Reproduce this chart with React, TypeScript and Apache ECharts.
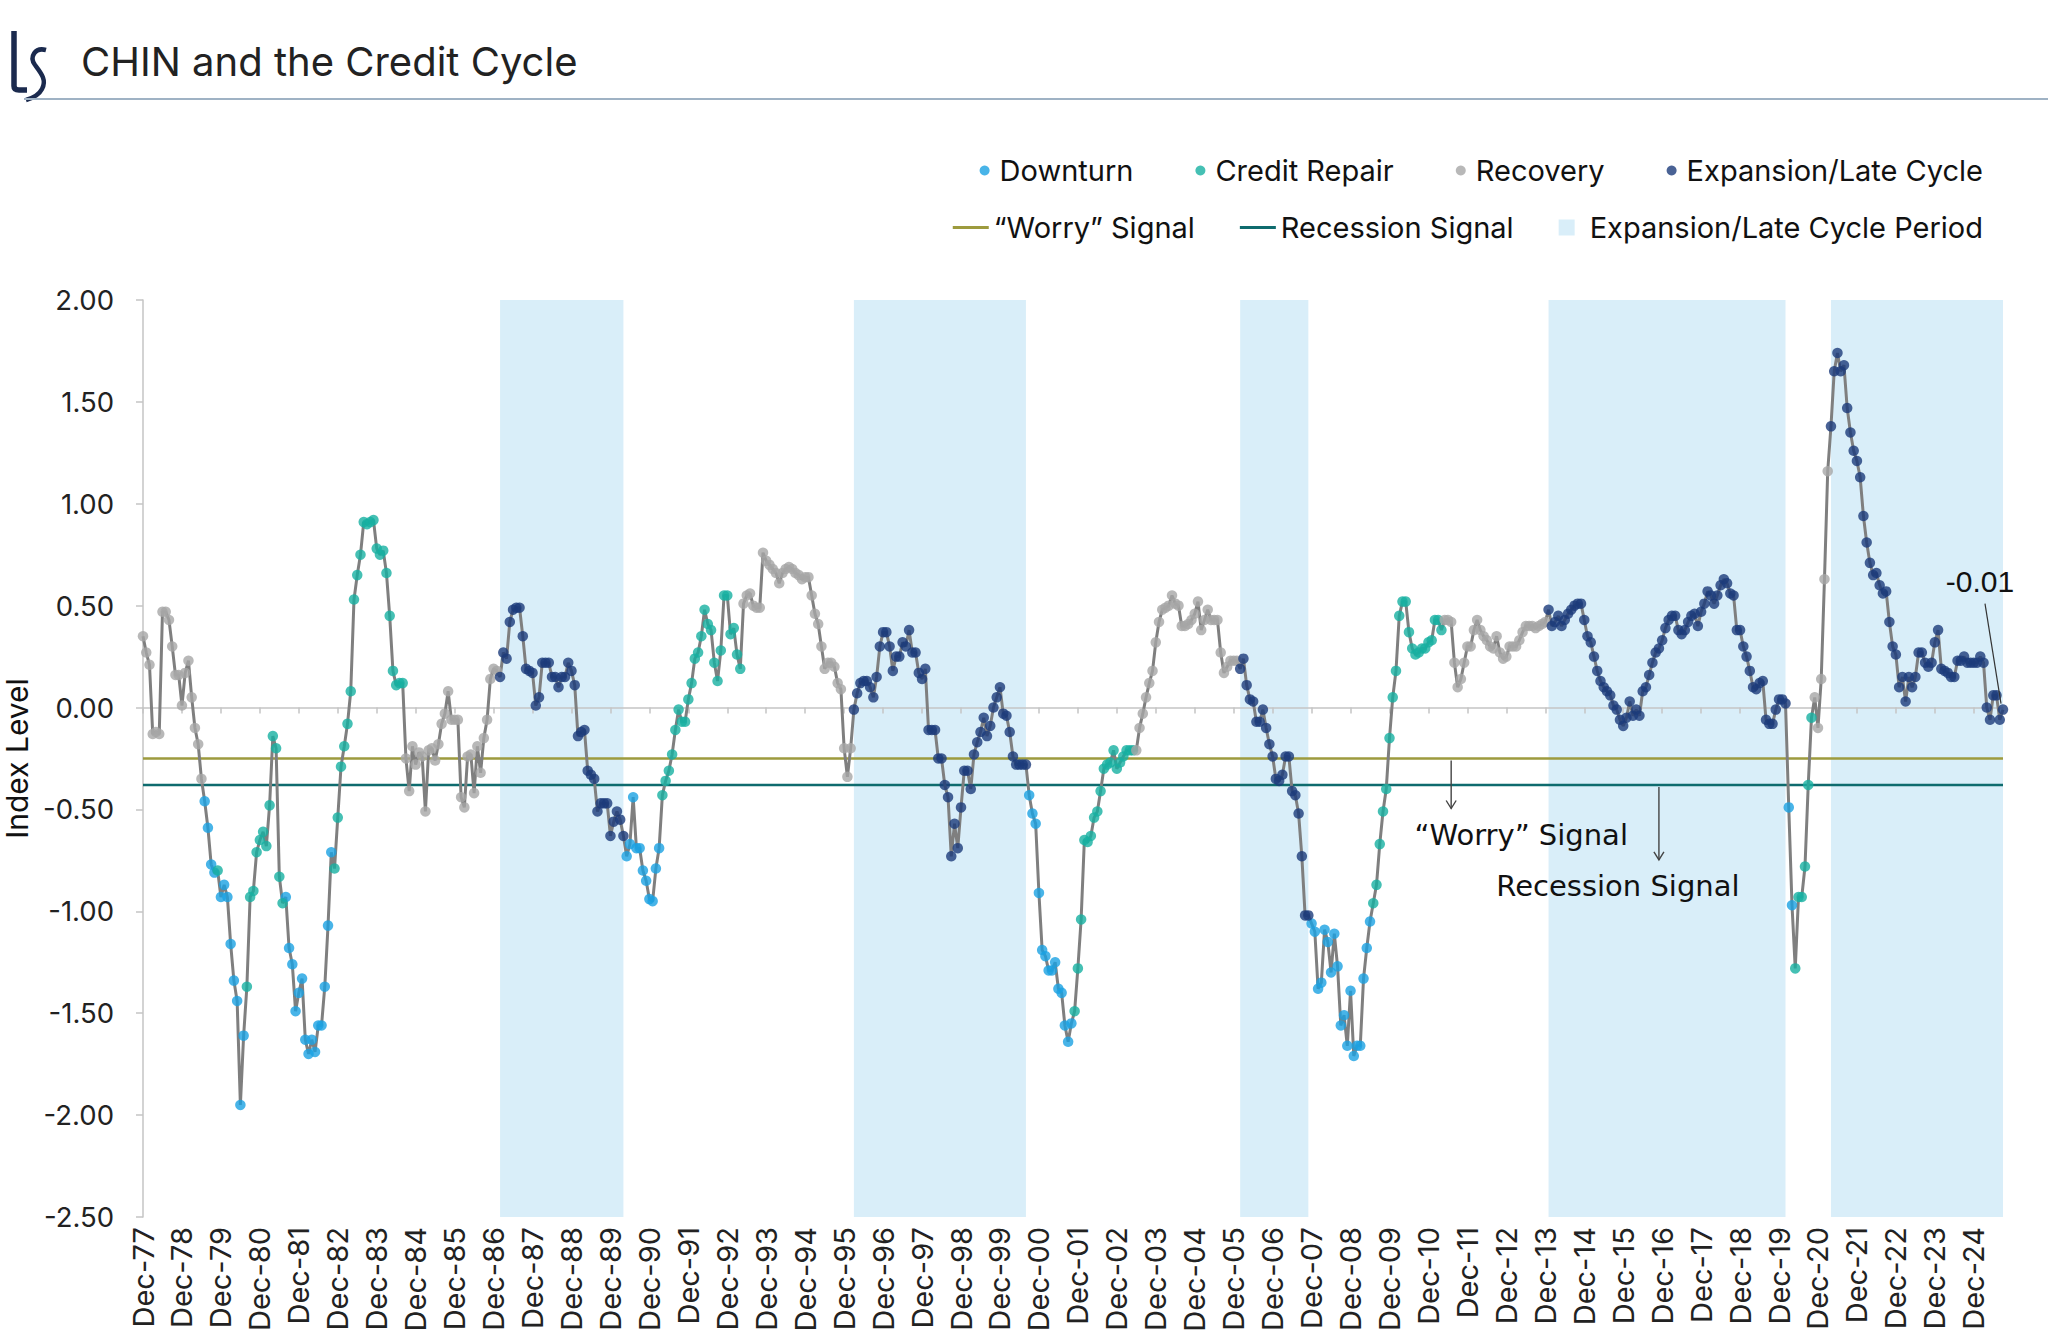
import React, { useEffect, useRef } from "react";
import * as echarts from "echarts";

// ---------- DATA ----------
const MONTH_NAMES = ["Jan", "Feb", "Mar", "Apr", "May", "Jun", "Jul", "Aug", "Sep", "Oct", "Nov", "Dec"];
const Y_MIN = -2.5;
const Y_MAX = 2;
const Y_STEP = 0.5;
const worrySignal = -0.25;
const recessionSignal = -0.38;

// monthly CHIN index, starting Dec-77
const chin1977_1983 = [
  0.35, 0.27, 0.21, -0.13, -0.12, -0.13, 0.47, 0.47, 0.43, 0.30, 0.16, 0.16,
  0.01, 0.17, 0.23, 0.05, -0.10, -0.18, -0.35, -0.46, -0.59, -0.77, -0.81, -0.80,
  -0.93, -0.87, -0.93, -1.16, -1.34, -1.44, -1.95, -1.61, -1.37, -0.93, -0.90, -0.71,
  -0.65, -0.61, -0.68, -0.48, -0.14, -0.20, -0.83, -0.96, -0.93, -1.18, -1.26, -1.49,
  -1.40, -1.33, -1.63, -1.70, -1.63, -1.69, -1.56, -1.56, -1.37, -1.07, -0.71, -0.79,
  -0.54, -0.29, -0.19, -0.08, 0.08, 0.53, 0.65,
];
const chin1983_1987 = [
  0.75, 0.91, 0.90, 0.91, 0.92, 0.78, 0.75, 0.77, 0.66, 0.45, 0.18, 0.11,
  0.12, 0.12, -0.25, -0.41, -0.19, -0.28, -0.22, -0.24, -0.51, -0.21, -0.20, -0.26,
  -0.18, -0.08, -0.03, 0.08, -0.06, -0.06, -0.06, -0.44, -0.49, -0.24, -0.23, -0.42,
  -0.19, -0.32, -0.15, -0.06, 0.14, 0.19, 0.18, 0.15, 0.27, 0.24, 0.42, 0.48,
  0.49, 0.49, 0.35, 0.19,
];
const chin1987_1991 = [
  0.18, 0.17, 0.01, 0.05, 0.22, 0.22, 0.22, 0.15, 0.15, 0.10, 0.15, 0.15,
  0.22, 0.18, 0.11, -0.14, -0.12, -0.11, -0.31, -0.33, -0.35, -0.51, -0.47, -0.47,
  -0.47, -0.63, -0.56, -0.51, -0.55, -0.63, -0.73, -0.67, -0.44, -0.69, -0.69, -0.80,
  -0.85, -0.94, -0.95, -0.79, -0.69, -0.43, -0.36, -0.31, -0.23, -0.11, -0.01, -0.07,
  -0.07, 0.04, 0.12, 0.24, 0.27, 0.35, 0.48,
];
const chin1992_1996 = [
  0.41, 0.38, 0.22, 0.13, 0.28, 0.55, 0.55, 0.36, 0.39, 0.26, 0.19, 0.51,
  0.55, 0.56, 0.50, 0.49, 0.49, 0.76, 0.72, 0.70, 0.68, 0.66, 0.61, 0.66,
  0.68, 0.69, 0.68, 0.66, 0.65, 0.63, 0.64, 0.64, 0.55, 0.46, 0.41, 0.30,
  0.19, 0.22, 0.22, 0.20, 0.12, 0.09, -0.20, -0.34, -0.20, -0.01, 0.07, 0.12,
  0.13, 0.13, 0.10, 0.05,
];
const chin1996_2001 = [
  0.15, 0.30, 0.37, 0.37, 0.30, 0.18, 0.25, 0.25, 0.32, 0.30, 0.38, 0.27,
  0.27, 0.17, 0.14, 0.19, -0.11, -0.11, -0.11, -0.25, -0.25, -0.38, -0.44, -0.73,
  -0.57, -0.69, -0.49, -0.31, -0.31, -0.40, -0.23, -0.17, -0.12, -0.05, -0.14, -0.09,
  0.00, 0.05, 0.10, -0.03, -0.04, -0.12, -0.24, -0.28, -0.28, -0.28, -0.28, -0.43,
  -0.52, -0.57, -0.91, -1.19, -1.22, -1.29, -1.29, -1.25, -1.38, -1.40, -1.56, -1.64,
];
const chin2001_2005 = [
  -1.55, -1.49, -1.28, -1.04, -0.65, -0.66, -0.63, -0.54, -0.51, -0.41, -0.30, -0.28,
  -0.27, -0.21, -0.30, -0.27, -0.24, -0.21, -0.21, -0.21, -0.21, -0.10, -0.03, 0.05,
  0.12, 0.18, 0.32, 0.42, 0.48, 0.49, 0.50, 0.55, 0.51, 0.50, 0.40, 0.40,
  0.41, 0.43, 0.46, 0.52, 0.38, 0.43, 0.48, 0.43, 0.43, 0.43, 0.27, 0.17,
  0.20, 0.23, 0.23, 0.23,
];
const chin2006_2010 = [
  0.19, 0.24, 0.11, 0.04, 0.03, -0.07, -0.07, -0.01, -0.10, -0.18, -0.24, -0.35,
  -0.36, -0.33, -0.24, -0.24, -0.41, -0.43, -0.52, -0.73, -1.02, -1.02, -1.06, -1.10,
  -1.38, -1.35, -1.09, -1.15, -1.30, -1.11, -1.27, -1.56, -1.51, -1.66, -1.39, -1.71,
  -1.66, -1.66, -1.33, -1.18, -1.05, -0.96, -0.87, -0.67, -0.51, -0.40, -0.15, 0.05,
  0.18, 0.45, 0.52, 0.52, 0.37, 0.29, 0.26,
];
const chin2010_2014 = [
  0.27, 0.29, 0.29, 0.32, 0.33, 0.43, 0.43, 0.38, 0.43, 0.43, 0.42, 0.22,
  0.10, 0.14, 0.22, 0.30, 0.30, 0.38, 0.43, 0.38, 0.35, 0.33, 0.30, 0.29,
  0.35, 0.27, 0.24, 0.25, 0.30, 0.30, 0.30, 0.33, 0.37, 0.40, 0.40, 0.40,
  0.39, 0.40, 0.41, 0.42, 0.48, 0.40, 0.42, 0.45, 0.40, 0.43, 0.46, 0.48,
  0.50, 0.51, 0.51, 0.43, 0.35, 0.32,
];
const chin2015_2019 = [
  0.25, 0.18, 0.13, 0.10, 0.08, 0.06, 0.01, -0.01, -0.06, -0.09, -0.05, 0.03,
  -0.04, -0.01, -0.04, 0.08, 0.10, 0.16, 0.22, 0.27, 0.29, 0.33, 0.39, 0.43,
  0.45, 0.45, 0.38, 0.36, 0.38, 0.42, 0.45, 0.46, 0.40, 0.47, 0.51, 0.57,
  0.55, 0.51, 0.55, 0.60, 0.63, 0.61, 0.56, 0.55, 0.38, 0.38, 0.30, 0.25,
  0.18, 0.10, 0.09, 0.12, 0.13, -0.06, -0.08, -0.08, -0.01, 0.04, 0.04, 0.02,
];
const chin2020_2025 = [
  -0.49, -0.97, -1.28, -0.93, -0.93, -0.78, -0.38, -0.05, 0.05, -0.10, 0.14, 0.63, 1.16,
  1.38, 1.65, 1.74, 1.65, 1.68, 1.47, 1.35, 1.26, 1.21, 1.13, 0.94, 0.81,
  0.71, 0.65, 0.66, 0.60, 0.56, 0.57, 0.42, 0.30, 0.26, 0.10, 0.15, 0.03,
  0.15, 0.10, 0.15, 0.27, 0.27, 0.22, 0.20, 0.22, 0.32, 0.38, 0.19, 0.18,
  0.17, 0.15, 0.15, 0.23, 0.23, 0.25, 0.22, 0.22, 0.22, 0.22, 0.25, 0.22,
  0.00, -0.06, 0.06, 0.06, -0.06, -0.01,
];

// cycle phase runs: index where a phase starts, and its code
const phaseStarts = [0, 19, 23, 24, 32, 44, 59, 81, 110, 149, 160, 185, 219, 273, 287, 306, 338, 360, 379, 401, 433, 507, 509, 515, 520];
const phaseCodes = ["R", "D", "C", "D", "C", "D", "C", "R", "E", "D", "C", "R", "E", "D", "C", "R", "E", "D", "C", "R", "E", "D", "C", "R", "E"];

const phaseOrder = ["D", "C", "R", "E"];
const phaseNames: Record<string, string> = {
  D: "Downturn",
  C: "Credit Repair",
  R: "Recovery",
  E: "Expansion/Late Cycle",
};
const phaseColors: Record<string, string> = {
  D: "#1AA1E2",
  C: "#16B0A1",
  R: "#A6A6A6",
  E: "#1C3B7A",
};

const WORRY_NAME = "\u201CWorry\u201D Signal";
const RECESSION_NAME = "Recession Signal";
const PERIOD_NAME = "Expansion/Late Cycle Period";

// annotation anchors (category index)
const worryArrowIndex = 403;
const recessionArrowIndex = 467;

// ---------- DERIVED ----------
const chinValues: number[] = [
  ...chin1977_1983, ...chin1983_1987, ...chin1987_1991, ...chin1992_1996, ...chin1996_2001,
  ...chin2001_2005, ...chin2006_2010, ...chin2010_2014, ...chin2015_2019, ...chin2020_2025,
];
const categories = chinValues.map((_, i) => {
  const t = 11 + i;
  const yr = (77 + Math.floor(t / 12)) % 100;
  return `${MONTH_NAMES[t % 12]}-${String(yr).padStart(2, "0")}`;
});
const phases = chinValues.map((_, i) => {
  let k = 0;
  for (let j = 0; j < phaseStarts.length; j++) if (phaseStarts[j] <= i) k = j;
  return phaseCodes[k];
});
const shadeRanges: [number, number][] = [];
phaseCodes.forEach((c, k) => {
  if (c === "E") {
    const end = k + 1 < phaseStarts.length ? phaseStarts[k + 1] - 1 : chinValues.length - 1;
    shadeRanges.push([phaseStarts[k], end]);
  }
});

const FONT = "Inter, 'Noto Sans', sans-serif";
const ANNO_FONT = "'DejaVu Sans', Verdana, sans-serif";
const LABEL_FONT = "'Liberation Sans', Arial, sans-serif";

echarts.graphic.registerShape(
  "logoL",
  echarts.graphic.extendPath("M14 31 L14 86 Q14 90 19 90 L27 90", {})
);
echarts.graphic.registerShape(
  "logoS",
  echarts.graphic.extendPath("M46 50 C35 47 29 57 35 65 C41 73 47 80 42 89 C39 95 33 98 26 100", {})
);

export default function App() {
  const ref = useRef<HTMLDivElement>(null);

  useEffect(() => {
    document.body.style.margin = "0";
    if (!ref.current) return;
    const chart = echarts.init(ref.current, null, { renderer: "svg" });

    const scatterSeries = phaseOrder.map((code) => ({
      name: phaseNames[code],
      type: "scatter",
      data: chinValues.map((v, i) => (phases[i] === code ? v : "-")),
      symbolSize: 10.5,
      itemStyle: { color: phaseColors[code] },
      z: 4,
      silent: true,
    }));

    const option: any = {
      animation: false,
      textStyle: { fontFamily: FONT },
      grid: { left: 143, right: 45, top: 300, bottom: 117, containLabel: false, outerBoundsMode: "none" },
      legend: [
        {
          data: phaseOrder.map((c) => ({ name: phaseNames[c] })),
          right: 60,
          top: 151,
          icon: "circle",
          itemWidth: 20,
          itemHeight: 10,
          itemGap: 62,
          selectedMode: false,
          itemStyle: { borderWidth: 0 },
          textStyle: { fontSize: 29, color: "#111", fontFamily: FONT },
        },
        {
          data: [
            { name: WORRY_NAME, icon: "path://M0,0H36V3H0Z", itemStyle: { color: "#9D9B3E" } },
            { name: RECESSION_NAME, icon: "path://M0,0H36V3H0Z", itemStyle: { color: "#0E6B6E" } },
            { name: PERIOD_NAME, icon: "path://M0,0H16V16H0Z", itemStyle: { color: "#D9EEF9" } },
          ],
          right: 60,
          top: 208,
          itemWidth: 36,
          itemHeight: 16,
          itemGap: 45,
          selectedMode: false,
          itemStyle: { borderWidth: 0 },
          textStyle: { fontSize: 29, color: "#111", fontFamily: FONT },
        },
      ],
      xAxis: [
        {
          type: "category",
          data: categories,
          boundaryGap: false,
          position: "bottom",
          axisLine: { show: false, onZero: false },
          axisTick: { show: false },
          axisLabel: {
            interval: (i: number) => i % 12 === 0,
            rotate: 90,
            margin: 10,
            fontSize: 29,
            color: "#222",
          },
          splitLine: { show: false },
        },
        {
          type: "category",
          data: categories,
          boundaryGap: false,
          position: "top",
          z: 1.5,
          axisLine: { show: true, onZero: true, lineStyle: { color: "#C4C4C4", width: 1.5 } },
          axisTick: {
            show: true,
            inside: true,
            length: 6,
            interval: (i: number) => i % 12 === 0,
            lineStyle: { color: "#C4C4C4", width: 1.5 },
          },
          axisLabel: { show: false },
          splitLine: { show: false },
        },
      ],
      yAxis: {
        type: "value",
        min: Y_MIN,
        max: Y_MAX,
        interval: Y_STEP,
        name: "Index Level",
        nameLocation: "middle",
        nameGap: 106,
        nameTextStyle: { fontSize: 30, color: "#111", fontFamily: FONT },
        axisLine: { show: true, lineStyle: { color: "#C4C4C4", width: 1.5 } },
        axisTick: { show: true, length: 7, lineStyle: { color: "#C4C4C4", width: 1.5 } },
        splitLine: { show: false },
        axisLabel: {
          formatter: (v: number) => v.toFixed(2),
          margin: 29,
          fontSize: 27.5,
          color: "#222",
        },
      },
      series: [
        {
          name: PERIOD_NAME,
          type: "line",
          data: [],
          color: "#D9EEF9",
          lineStyle: { color: "#D9EEF9" },
          itemStyle: { color: "#D9EEF9" },
          silent: true,
          markArea: {
            silent: true,
            itemStyle: { color: "#D9EEF9" },
            data: shadeRanges.map(([a, b]) => [{ xAxis: categories[a] }, { xAxis: categories[b] }]),
          },
        },
        {
          name: WORRY_NAME,
          type: "line",
          data: categories.map(() => worrySignal),
          symbol: "none",
          color: "#9D9B3E",
          lineStyle: { color: "#9D9B3E", width: 2.6 },
          z: 2,
          silent: true,
        },
        {
          name: RECESSION_NAME,
          type: "line",
          data: categories.map(() => recessionSignal),
          symbol: "none",
          color: "#0E6B6E",
          lineStyle: { color: "#0E6B6E", width: 2.6 },
          z: 2,
          silent: true,
        },
        {
          name: "CHIN",
          type: "line",
          data: chinValues,
          symbol: "none",
          color: "#7F7F7F",
          lineStyle: { color: "#7F7F7F", width: 3 },
          z: 3,
          silent: true,
        },
        ...scatterSeries,
      ],
    };

    chart.setOption(option);

    const toPx = (i: number, v: number) => chart.convertToPixel({ gridIndex: 0 }, [i, v]) as number[];
    const [wx, wy] = toPx(worryArrowIndex, worrySignal);
    const [rx, ry] = toPx(recessionArrowIndex, recessionSignal);
    const lastIdx = chinValues.length - 1;
    const [lx, ly] = toPx(lastIdx, chinValues[lastIdx]);
    const arrowColor = "#444";
    const wEnd = wy + 50;
    const rEnd = ry + 75;

    chart.setOption({
      graphic: [
        { type: "logoL", x: 0, y: 0, shape: {}, style: { stroke: "#1B2A4E", lineWidth: 5.5, fill: "none" } },
        { type: "logoS", x: 0, y: 0, shape: {}, style: { stroke: "#1B2A4E", lineWidth: 4.5, fill: "none" } },
        {
          type: "text",
          x: 81,
          y: 61,
          style: {
            text: "CHIN and the Credit Cycle",
            fontSize: 40,
            fontFamily: FONT,
            fill: "#222",
            align: "left",
            verticalAlign: "middle",
          },
        },
        { type: "line", shape: { x1: 24, y1: 99, x2: 2048, y2: 99 }, style: { stroke: "#9FB2C4", lineWidth: 2 } },
        // worry arrow
        { type: "line", z: 10, shape: { x1: wx, y1: wy + 2, x2: wx, y2: wEnd }, style: { stroke: arrowColor, lineWidth: 1.4 } },
        {
          type: "polyline",
          z: 10,
          shape: { points: [[wx - 5, wEnd - 8], [wx, wEnd], [wx + 5, wEnd - 8]] },
          style: { stroke: arrowColor, lineWidth: 1.4, fill: "none" },
        },
        {
          type: "text",
          z: 10,
          x: wx + 70,
          y: wEnd + 26,
          style: { text: WORRY_NAME, fontSize: 29, fontFamily: ANNO_FONT, fill: "#111", align: "center", verticalAlign: "middle" },
        },
        // recession arrow
        { type: "line", z: 10, shape: { x1: rx, y1: ry + 2, x2: rx, y2: rEnd }, style: { stroke: arrowColor, lineWidth: 1.4 } },
        {
          type: "polyline",
          z: 10,
          shape: { points: [[rx - 5, rEnd - 8], [rx, rEnd], [rx + 5, rEnd - 8]] },
          style: { stroke: arrowColor, lineWidth: 1.4, fill: "none" },
        },
        {
          type: "text",
          z: 10,
          x: rx - 41,
          y: rEnd + 26,
          style: { text: RECESSION_NAME, fontSize: 29, fontFamily: ANNO_FONT, fill: "#111", align: "center", verticalAlign: "middle" },
        },
        // last value label
        {
          type: "text",
          z: 10,
          x: lx - 23,
          y: ly - 128,
          style: {
            text: chinValues[lastIdx].toFixed(2),
            fontSize: 30,
            fontFamily: LABEL_FONT,
            fill: "#111",
            align: "center",
            verticalAlign: "middle",
          },
        },
        { type: "line", z: 10, shape: { x1: lx - 18, y1: ly - 106, x2: lx - 2, y2: ly - 6 }, style: { stroke: "#333", lineWidth: 1.2 } },
      ],
    });

    return () => chart.dispose();
  }, []);

  return <div ref={ref} style={{ width: 2048, height: 1334 }} />;
}
